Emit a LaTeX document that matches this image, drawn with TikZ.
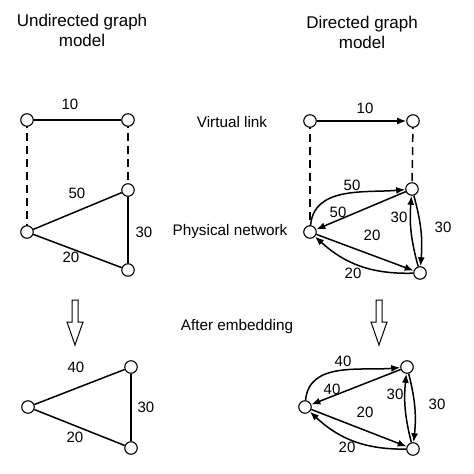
\documentclass[tikz,border=0pt]{standalone}
\usepackage{fontspec}
\setmainfont{Liberation Sans}
\usetikzlibrary{arrows.meta}
\begin{document}
\begin{tikzpicture}[x=1pt,y=-1pt,
  vert/.style={circle,draw,fill=white,line width=1.1pt,minimum size=12.5pt,inner sep=0pt},
  lbl/.style={font=\fontsize{15}{17}\selectfont,inner sep=0pt},
  txt/.style={font=\fontsize{15.3}{17}\selectfont,inner sep=0pt},
  head/.style={font=\fontsize{17}{20}\selectfont,inner sep=0pt,align=center},
  edge/.style={line width=1.5pt},
  dedge/.style={line width=1.5pt,-{Latex[length=9pt,width=7pt]}},
  vdash/.style={line width=1.5pt,dash pattern=on 8pt off 5pt},
  hollow/.style={line width=1pt,fill=white,draw}]
\useasboundingbox (0,0) rectangle (474,474);
% headings
\node[head] (h1) at (82,30) {Undirected graph\\model};
\node[head] (h2) at (362,32) {Directed graph\\model};
\node[txt] (t1) at (232,122) {Virtual link};
\node[txt] (t2) at (230,232) {Physical network};
\node[txt] (t3) at (237,327) {After embedding};

% ---------- left: undirected ----------
\draw[vdash] (27,120) -- (27,232);
\draw[vdash] (128,120) -- (128,190);
\node[vert] (a1) at (27,120) {};
\node[vert] (a2) at (128,120) {};
\draw[edge] (a1) -- (a2);
\node[lbl] (la) at (70,104) {10};
\node[vert] (p1) at (128,190) {};
\node[vert] (p2) at (27,232) {};
\node[vert] (p3) at (128,270) {};
\draw[edge] (p2) -- (p1);
\draw[edge] (p1) -- (p3);
\draw[edge] (p2) -- (p3);
\node[lbl] (lb) at (77,193) {50};
\node[lbl] (lc) at (144,232) {30};
\node[lbl] (ld) at (71,257) {20};

\draw[hollow] (72,300) -- (78,300) -- (78,322) -- (83,322) -- (75,345) -- (67,322) -- (72,322) -- cycle;

\node[vert] (e1) at (131,367) {};
\node[vert] (e2) at (28,407) {};
\node[vert] (e3) at (131,448) {};
\draw[edge] (e2) -- (e1);
\draw[edge] (e1) -- (e3);
\draw[edge] (e2) -- (e3);
\node[lbl] (le) at (76,367) {40};
\node[lbl] (lf) at (146,407) {30};
\node[lbl] (lg) at (75,437) {20};

% ---------- right: directed ----------
\draw[vdash] (310,121) -- (310,232);
\draw[vdash] (413,121) -- (412,189);
\node[vert] (b1) at (310,121) {};
\node[vert] (b2) at (413,121) {};
\draw[dedge] (b1) -- (b2);
\node[lbl] (lh) at (365,108) {10};

\node[vert] (q1) at (412,189) {};
\node[vert] (q2) at (310,232) {};
\node[vert] (q3) at (420,273) {};
\draw[dedge] (q2) to[out=85,in=185] (q1);
\draw[dedge] (q1) -- (q2);
\draw[dedge] (q2) -- (q3);
\draw[dedge] (q3) to[bend left=22] (q2);
\draw[dedge] (q3) to[bend left=10] (q1);
\draw[dedge] (q1) to[bend left=10] (q3);
\node[lbl] (li) at (352,185) {50};
\node[lbl] (lj) at (338,212) {50};
\node[lbl] (lk) at (399,217) {30};
\node[lbl] (ll) at (443,227) {30};
\node[lbl] (lm) at (372,235) {20};
\node[lbl] (ln) at (353,273) {20};

\draw[hollow] (376,300) -- (382,300) -- (382,322) -- (387,322) -- (379,345) -- (371,322) -- (376,322) -- cycle;

\node[vert] (r1) at (407,367) {};
\node[vert] (r2) at (305,407) {};
\node[vert] (r3) at (413,449) {};
\draw[dedge] (r2) to[out=85,in=185] (r1);
\draw[dedge] (r1) -- (r2);
\draw[dedge] (r2) -- (r3);
\draw[dedge] (r3) to[bend left=22] (r2);
\draw[dedge] (r3) to[bend left=10] (r1);
\draw[dedge] (r1) to[bend left=10] (r3);
\node[lbl] (lo) at (343,361) {40};
\node[lbl] (lp) at (332,389) {40};
\node[lbl] (lq) at (395,394) {30};
\node[lbl] (lr) at (437,404) {30};
\node[lbl] (ls) at (365,412) {20};
\node[lbl] (lt) at (347,447) {20};
\end{tikzpicture}
\end{document}
